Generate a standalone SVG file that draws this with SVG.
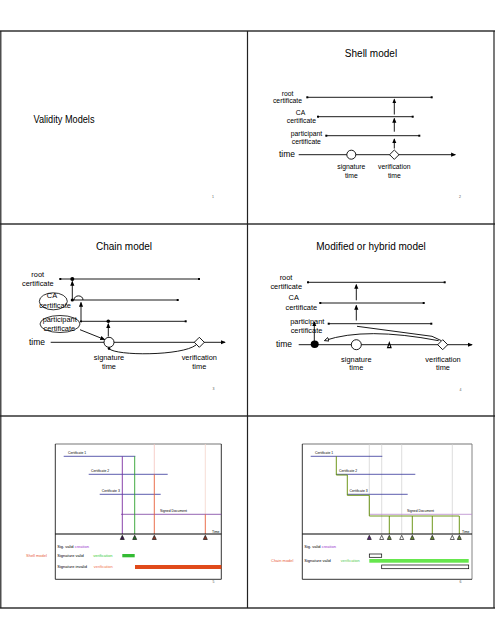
<svg xmlns="http://www.w3.org/2000/svg" width="495" height="640" viewBox="0 0 495 640">
<defs>
<style>
text{font-family:"Liberation Sans",Arial,sans-serif;fill:#000}
.title{font-size:10px;text-anchor:middle}
.l7{font-size:6.8px;text-anchor:middle}
.l74{font-size:7.4px;text-anchor:middle}
.tm{font-size:8.5px}
.pg{font-size:3.5px;fill:#555}
.ln{stroke:#000;stroke-width:0.9;fill:none}
.fh{stroke:#666;stroke-width:2}
.fv{stroke:#222;stroke-width:1.2}
.sh{fill:#fff;stroke:#000;stroke-width:0.9}
.t4{font-size:4px}
.t35{font-size:3.4px}
.cert{stroke:#333399;stroke-width:0.8}
.doc{stroke:#7a3ea0;stroke-width:0.8}
.gray{stroke:#cfcfcf;stroke-width:0.7}
.ol{stroke:#5e8c00;stroke-width:0.9;fill:none}
.ax{stroke:#000;stroke-width:1.2}
.box{fill:none;stroke:#000;stroke-width:0.8}
</style>
<marker id="ah" viewBox="0 0 6 6" refX="5" refY="3" markerWidth="5" markerHeight="5" orient="auto" markerUnits="userSpaceOnUse"><path d="M0,0.5 L6,3 L0,5.5 z" fill="#000"/></marker>
<marker id="ho" viewBox="0 0 6 6" refX="5" refY="3" markerWidth="5" markerHeight="5" orient="auto" markerUnits="userSpaceOnUse"><path d="M0.5,0.8 L5.5,3 L0.5,5.2 z" fill="#fff" stroke="#000" stroke-width="1"/></marker>
</defs>
<rect width="495" height="640" fill="#fff"/>
<g opacity="0.999">
<g id="frame">
<line class="fh" x1="0" y1="31" x2="495" y2="31"/>
<line class="fh" x1="0" y1="224" x2="495" y2="224"/>
<line class="fh" x1="0" y1="416" x2="495" y2="416"/>
<line class="fh" x1="0" y1="608" x2="495" y2="608"/>
<line class="fv" x1="0.8" y1="31" x2="0.8" y2="608"/>
<line class="fv" x1="247.5" y1="31" x2="247.5" y2="608"/>
<line class="fv" x1="494" y1="31" x2="494" y2="608"/>
</g>

<g id="slide1">
<text x="33.5" y="123" font-size="10" textLength="61" lengthAdjust="spacingAndGlyphs">Validity Models</text>
<text class="pg" x="212" y="198">1</text>
</g>

<g id="slide2">
<text class="title" x="371" y="57.3">Shell model</text>
<g id="s2-root"><text class="l7" x="287.5" y="96">root</text><text class="l7" x="287.5" y="103.3">certificate</text>
<line class="ln" x1="307.3" y1="97.3" x2="431.7" y2="97.3"/><rect x="306.3" y="96.3" width="2" height="2"/><rect x="430.7" y="96.3" width="2" height="2"/></g>
<g id="s2-ca"><text class="l7" x="300.5" y="115">CA</text><text class="l7" x="301.4" y="122.7">certificate</text>
<line class="ln" x1="318" y1="116.7" x2="412.7" y2="116.7"/><rect x="317" y="115.7" width="2" height="2"/><rect x="411.7" y="115.7" width="2" height="2"/></g>
<g id="s2-part"><text class="l7" x="306.5" y="136">participant</text><text class="l7" x="306.3" y="144">certificate</text>
<line class="ln" x1="326.3" y1="135.7" x2="419.3" y2="135.7"/><rect x="325.3" y="134.7" width="2" height="2"/><rect x="418.3" y="134.7" width="2" height="2"/></g>
<g id="s2-time"><text class="tm" x="279" y="157.3">time</text>
<line class="ln" x1="298.7" y1="154.7" x2="455.3" y2="154.7" marker-end="url(#ah)"/></g>
<g id="s2-sig"><circle class="sh" cx="351.3" cy="154.7" r="4.5"/><text class="l7" x="351.3" y="169">signature</text><text class="l7" x="351.3" y="177.7">time</text></g>
<g id="s2-ver"><polygon class="sh" points="394.3,150 399,154.7 394.3,159.4 389.6,154.7"/><text class="l7" x="394.3" y="169">verification</text><text class="l7" x="394.3" y="177.7">time</text></g>
<g id="s2-arrows">
<line class="ln" x1="394.3" y1="148.5" x2="394.3" y2="139" marker-end="url(#ah)"/>
<line class="ln" x1="394.3" y1="131.7" x2="394.3" y2="118.5" marker-end="url(#ah)"/>
<line class="ln" x1="394.3" y1="114.5" x2="394.3" y2="99.3" marker-end="url(#ah)"/>
</g>
<text class="pg" x="459" y="198">2</text>
</g>

<g id="slide3">
<text class="title" x="124" y="250">Chain model</text>
<g id="s3-root"><text class="l74" x="37.7" y="277">root</text><text class="l74" x="37.8" y="286">certificate</text>
<line class="ln" x1="60.3" y1="279" x2="199" y2="279"/><rect x="59.3" y="278" width="2" height="2"/><rect x="198" y="278" width="2" height="2"/><circle cx="72.3" cy="279" r="2"/></g>
<g id="s3-ca"><text class="l74" x="52" y="298.3">CA</text><text class="l74" x="55" y="308.3">certificate</text>
<ellipse cx="53.3" cy="301.3" rx="14" ry="8.5" fill="none" stroke="#000" stroke-width="0.8"/>
<line class="ln" x1="72.3" y1="300" x2="177.7" y2="300"/><circle cx="72.3" cy="300" r="1.6"/><rect x="176.7" y="299" width="2" height="2"/>
<path class="ln" d="M74,300 C74,294.5 83,294.5 83,300"/></g>
<g id="s3-part"><text class="l74" x="59.7" y="321.5">participant</text><text class="l74" x="59.3" y="331.3">certificate</text>
<ellipse cx="60" cy="324" rx="20" ry="8.5" fill="none" stroke="#000" stroke-width="0.8"/>
<line class="ln" x1="81" y1="321.3" x2="185.7" y2="321.3"/><rect x="80" y="320.3" width="2" height="2"/><rect x="184.7" y="320.3" width="2" height="2"/><circle cx="108.3" cy="321.3" r="1.8"/></g>
<g id="s3-time"><text class="tm" x="29" y="345.3">time</text>
<line class="ln" x1="50.7" y1="342.3" x2="225" y2="342.3" marker-end="url(#ah)"/></g>
<g id="s3-sig"><circle class="sh" cx="109" cy="342.3" r="5"/><text class="l74" x="109" y="359.7">signature</text><text class="l74" x="109" y="368.7">time</text></g>
<g id="s3-ver"><polygon class="sh" points="199.3,337.3 204.3,342.3 199.3,347.3 194.3,342.3"/><text class="l74" x="199.3" y="359.7">verification</text><text class="l74" x="199.3" y="368.7">time</text></g>
<g id="s3-conn">
<line class="ln" x1="72.3" y1="299" x2="72.3" y2="281.5" marker-end="url(#ah)"/>
<line class="ln" x1="81" y1="320" x2="81" y2="302.5" marker-end="url(#ah)"/>
<line class="ln" x1="108.3" y1="336.5" x2="108.3" y2="323.8" marker-end="url(#ah)"/>
<line class="ln" x1="80" y1="329.7" x2="104.5" y2="339.5" marker-end="url(#ah)"/>
<circle cx="109" cy="348.6" r="1.3"/>
<path class="ln" d="M109,348.6 C116,356 182,356 196,345"/>
</g>
<text class="pg" x="212.5" y="390.3">3</text>
</g>

<g id="slide4">
<text class="title" x="371" y="249.7">Modified or hybrid model</text>
<g id="s4-root"><text class="l74" x="286" y="279.7">root</text><text class="l74" x="286.2" y="289">certificate</text>
<line class="ln" x1="308" y1="282.3" x2="444.7" y2="282.3"/><rect x="307" y="281.3" width="2" height="2"/><rect x="443.7" y="281.3" width="2" height="2"/></g>
<g id="s4-ca"><text class="l74" x="293.7" y="300.3">CA</text><text class="l74" x="301.3" y="309.7">certificate</text>
<line class="ln" x1="320.3" y1="303" x2="423.7" y2="303"/><rect x="319.3" y="302" width="2" height="2"/><rect x="422.7" y="302" width="2" height="2"/></g>
<g id="s4-part"><text class="l74" x="307.3" y="324">participant</text><text class="l74" x="306.5" y="333">certificate</text>
<line class="ln" x1="328.7" y1="323.7" x2="431.3" y2="323.7"/><rect x="327.7" y="322.7" width="2" height="2"/><rect x="430.3" y="322.7" width="2" height="2"/></g>
<g id="s4-time"><text class="tm" x="276" y="347">time</text>
<line class="ln" x1="298.7" y1="344.7" x2="472" y2="344.7" marker-end="url(#ah)"/></g>
<g id="s4-start"><ellipse cx="314.7" cy="344.3" rx="4" ry="3.7"/></g>
<g id="s4-sig"><circle class="sh" cx="356.3" cy="344.7" r="5"/><text class="l74" x="356.3" y="361.7">signature</text><text class="l74" x="356.3" y="370.3">time</text></g>
<g id="s4-mid"><polygon points="387.6,347.6 389.3,342.8 391,347.6" fill="none" stroke="#000" stroke-width="1.2"/></g>
<g id="s4-ver"><polygon class="sh" points="442.7,339.7 447.7,344.7 442.7,349.7 437.7,344.7"/><text class="l74" x="443" y="361.7">verification</text><text class="l74" x="443" y="370.3">time</text></g>
<g id="s4-conn">
<line class="ln" x1="356.3" y1="300.3" x2="356.3" y2="284.7" marker-end="url(#ah)"/>
<line class="ln" x1="356.3" y1="320.5" x2="356.3" y2="305.5" marker-end="url(#ah)"/>
<line class="ln" x1="314.3" y1="342" x2="314.3" y2="322" marker-end="url(#ah)"/>
<polyline class="ln" points="441,340.5 432,336.3 357,326.3"/>
<path class="ln" d="M438.7,340.7 Q365.7,326.7 324.8,340.5" marker-end="url(#ho)"/>
</g>
<text class="pg" x="459.5" y="391.3">4</text>
</g>

<g id="slide5">
<g id="s5-box">
<line x1="55.3" y1="444" x2="221.3" y2="444" stroke="#777" stroke-width="1.2"/>
<line class="box" x1="55.3" y1="444" x2="55.3" y2="579.3"/>
<line class="box" x1="221.3" y1="444" x2="221.3" y2="579.3"/>
<line class="box" x1="55.3" y1="579.3" x2="221.3" y2="579.3"/>
</g>
<g id="s5-lines">
<line x1="154.3" y1="444" x2="154.3" y2="474.3" stroke="#f4c4bc" stroke-width="0.8"/>
<line x1="205.3" y1="444" x2="205.3" y2="514.3" stroke="#f4d4cc" stroke-width="0.8"/>
<line class="cert" x1="63.7" y1="456.3" x2="135.3" y2="456.3"/>
<line class="cert" x1="88.7" y1="474.3" x2="167.7" y2="474.3"/>
<line class="cert" x1="99.7" y1="494.3" x2="160.7" y2="494.3"/>
<line class="doc" x1="121" y1="514.3" x2="221.3" y2="514.3"/>
<line x1="122.3" y1="456.3" x2="122.3" y2="534" stroke="#7a2ea0" stroke-width="0.9"/>
<line x1="134.7" y1="456.3" x2="134.7" y2="534" stroke="#2ea02e" stroke-width="0.9"/>
<line x1="154.3" y1="474.3" x2="154.3" y2="534" stroke="#e8603a" stroke-width="0.9"/>
<line x1="205.3" y1="514.3" x2="205.3" y2="534" stroke="#e8603a" stroke-width="0.9"/>
<line class="ax" x1="55.3" y1="534" x2="221.3" y2="534"/>
</g>
<text class="t35" x="68" y="454">Certificate 1</text>
<text class="t35" x="91" y="472">Certificate 2</text>
<text class="t35" x="101.7" y="492">Certificate 3</text>
<text class="t35" x="160" y="512">Signed Document</text>
<text class="t35" x="212" y="532.5">Time</text>
<g id="s5-marks" stroke="#000" stroke-width="0.6">
<polygon points="120.3,539.5 122.3,535.3 124.3,539.5" fill="#3a1a4a"/>
<polygon points="132.7,539.5 134.7,535.3 136.7,539.5" fill="#2a6a2a"/>
<polygon points="152.3,539.5 154.3,535.3 156.3,539.5" fill="#8a3a2a"/>
<polygon points="203.3,539.5 205.3,535.3 207.3,539.5" fill="#8a3a2a"/>
</g>
<text class="t4" x="57.3" y="548.3">Sig. valid <tspan style="fill:#9933cc">creation</tspan></text>
<text class="t4" x="26" y="556.7" style="fill:#e8603a">Shell model</text>
<text class="t4" x="57.3" y="556.7">Signature valid</text>
<text class="t4" x="93.3" y="556.7" style="fill:#33cc33">verification</text>
<rect x="122.3" y="554" width="12.4" height="3.3" fill="#33bb33"/>
<text class="t4" x="57.3" y="568.3">Signature invalid</text>
<text class="t4" x="93.7" y="568.3" style="fill:#f07050">verification</text>
<rect x="135" y="565" width="86.3" height="4" fill="#e04a1a"/>
<text class="pg" x="212.5" y="583.3">5</text>
</g>

<g id="slide6">
<g id="s6-box">
<line x1="302.3" y1="444" x2="472" y2="444" stroke="#777" stroke-width="1.2"/>
<line class="box" x1="302.3" y1="444" x2="302.3" y2="579.3"/>
<line x1="472" y1="444" x2="472" y2="579.3" stroke="#777" stroke-width="0.9"/>
<line class="box" x1="302.3" y1="579.3" x2="472" y2="579.3"/>
</g>
<g id="s6-lines">
<line class="gray" x1="369.3" y1="444" x2="369.3" y2="514"/>
<line class="gray" x1="381.7" y1="444" x2="381.7" y2="534"/>
<line class="gray" x1="401.7" y1="444" x2="401.7" y2="534"/>
<line class="gray" x1="452.3" y1="444" x2="452.3" y2="534"/>
<line class="cert" x1="310.7" y1="456.3" x2="382.3" y2="456.3"/>
<line class="cert" x1="336.3" y1="474.3" x2="415.3" y2="474.3"/>
<line class="cert" x1="347.3" y1="494.3" x2="407.7" y2="494.3"/>
<line x1="369.3" y1="514.3" x2="472" y2="514.3" stroke="#b888cc" stroke-width="0.8"/>
<polyline class="ol" points="336.3,456.3 336.3,475 347.3,475 347.3,495.3 369.3,495.3 369.3,516 459.3,516"/>
<line class="ol" x1="389.3" y1="516" x2="389.3" y2="534"/>
<line class="ol" x1="412.3" y1="516" x2="412.3" y2="534"/>
<line class="ol" x1="432.3" y1="516" x2="432.3" y2="534"/>
<line class="ol" x1="459.3" y1="516" x2="459.3" y2="534"/>
<line class="ax" x1="302.3" y1="534" x2="472" y2="534"/>
</g>
<text class="t35" x="315" y="454">Certificate 1</text>
<text class="t35" x="339" y="472">Certificate 2</text>
<text class="t35" x="349.5" y="492">Certificate 3</text>
<text class="t35" x="407" y="512">Signed Document</text>
<text class="t35" x="462" y="532.5">Time</text>
<g id="s6-marks" stroke="#000" stroke-width="0.6">
<polygon points="367.3,539.5 369.3,535.3 371.3,539.5" fill="#5a2a7a"/>
<polygon points="379.7,539.5 381.7,535.3 383.7,539.5" fill="#fff"/>
<polygon points="387.3,539.5 389.3,535.3 391.3,539.5" fill="#6a8a3a"/>
<polygon points="399.7,539.5 401.7,535.3 403.7,539.5" fill="#fff"/>
<polygon points="410.3,539.5 412.3,535.3 414.3,539.5" fill="#6a8a3a"/>
<polygon points="430.3,539.5 432.3,535.3 434.3,539.5" fill="#6a8a3a"/>
<polygon points="450.3,539.5 452.3,535.3 454.3,539.5" fill="#fff"/>
<polygon points="457.3,539.5 459.3,535.3 461.3,539.5" fill="#6a8a3a"/>
</g>
<text class="t4" x="304.3" y="548.3">Sig. valid <tspan style="fill:#9933cc">creation</tspan></text>
<text class="t4" x="271" y="562.3" style="fill:#e8603a">Chain model</text>
<text class="t4" x="304.3" y="562.3">Signature valid</text>
<text class="t4" x="340.7" y="562.3" style="fill:#55cc55">verification</text>
<rect x="369.3" y="554" width="12.4" height="3.3" fill="#fff" stroke="#000" stroke-width="0.7"/>
<rect x="369.3" y="559" width="99.4" height="3.7" fill="#66e64d"/>
<rect x="381.7" y="565" width="87" height="3.7" fill="#fff" stroke="#000" stroke-width="0.7"/>
<text class="pg" x="459.5" y="583.3">6</text>
</g>
</g>
</svg>
